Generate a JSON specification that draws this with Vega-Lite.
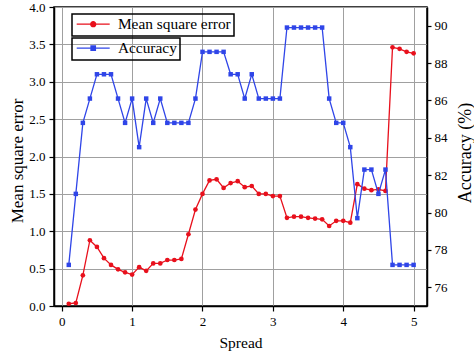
{
  "$schema": "https://vega.github.io/schema/vega-lite/v6.json",
  "autosize": "none",
  "width": 373,
  "height": 299,
  "padding": {"left": 54, "top": 7, "right": 47, "bottom": 45},
  "background": "white",
  "config": {
    "font": "Liberation Serif",
    "view": {"stroke": "black", "strokeWidth": 1.5},
    "axis": {
      "domainColor": "black", "domainWidth": 1.5,
      "tickColor": "black", "tickWidth": 1.2,
      "labelColor": "black", "labelFont": "Liberation Serif", "labelFontSize": 13,
      "titleColor": "black", "titleFont": "Liberation Serif", "titleFontWeight": "normal",
      "gridWidth": 1, "gridColor": "#a0a0a0"
    },
    "legend": {
      "labelFont": "Liberation Serif", "labelFontSize": 15.4, "labelColor": "black",
      "strokeColor": "black", "strokeWidth": 1.5
    }
  },
  "data": {"values": [
    {"x": 0.1, "mse": 0.03, "acc": 77.2},
    {"x": 0.2, "mse": 0.04, "acc": 81.0},
    {"x": 0.3, "mse": 0.41, "acc": 84.8},
    {"x": 0.4, "mse": 0.88, "acc": 86.1},
    {"x": 0.5, "mse": 0.79, "acc": 87.4},
    {"x": 0.6, "mse": 0.64, "acc": 87.4},
    {"x": 0.7, "mse": 0.55, "acc": 87.4},
    {"x": 0.8, "mse": 0.49, "acc": 86.1},
    {"x": 0.9, "mse": 0.45, "acc": 84.8},
    {"x": 1.0, "mse": 0.42, "acc": 86.1},
    {"x": 1.1, "mse": 0.52, "acc": 83.5},
    {"x": 1.2, "mse": 0.47, "acc": 86.1},
    {"x": 1.3, "mse": 0.57, "acc": 84.8},
    {"x": 1.4, "mse": 0.57, "acc": 86.1},
    {"x": 1.5, "mse": 0.615, "acc": 84.8},
    {"x": 1.6, "mse": 0.615, "acc": 84.8},
    {"x": 1.7, "mse": 0.63, "acc": 84.8},
    {"x": 1.8, "mse": 0.96, "acc": 84.8},
    {"x": 1.9, "mse": 1.29, "acc": 86.1},
    {"x": 2.0, "mse": 1.50, "acc": 88.6},
    {"x": 2.1, "mse": 1.68, "acc": 88.6},
    {"x": 2.2, "mse": 1.695, "acc": 88.6},
    {"x": 2.3, "mse": 1.58, "acc": 88.6},
    {"x": 2.4, "mse": 1.645, "acc": 87.4},
    {"x": 2.5, "mse": 1.67, "acc": 87.4},
    {"x": 2.6, "mse": 1.59, "acc": 86.1},
    {"x": 2.7, "mse": 1.605, "acc": 87.4},
    {"x": 2.8, "mse": 1.50, "acc": 86.1},
    {"x": 2.9, "mse": 1.50, "acc": 86.1},
    {"x": 3.0, "mse": 1.47, "acc": 86.1},
    {"x": 3.1, "mse": 1.47, "acc": 86.1},
    {"x": 3.2, "mse": 1.18, "acc": 89.9},
    {"x": 3.3, "mse": 1.195, "acc": 89.9},
    {"x": 3.4, "mse": 1.195, "acc": 89.9},
    {"x": 3.5, "mse": 1.18, "acc": 89.9},
    {"x": 3.6, "mse": 1.17, "acc": 89.9},
    {"x": 3.7, "mse": 1.16, "acc": 89.9},
    {"x": 3.8, "mse": 1.07, "acc": 86.1},
    {"x": 3.9, "mse": 1.14, "acc": 84.8},
    {"x": 4.0, "mse": 1.14, "acc": 84.8},
    {"x": 4.1, "mse": 1.115, "acc": 83.5},
    {"x": 4.2, "mse": 1.63, "acc": 79.7},
    {"x": 4.3, "mse": 1.57, "acc": 82.3},
    {"x": 4.4, "mse": 1.55, "acc": 82.3},
    {"x": 4.5, "mse": 1.56, "acc": 81.0},
    {"x": 4.6, "mse": 1.54, "acc": 82.3},
    {"x": 4.7, "mse": 3.46, "acc": 77.2},
    {"x": 4.8, "mse": 3.44, "acc": 77.2},
    {"x": 4.9, "mse": 3.40, "acc": 77.2},
    {"x": 5.0, "mse": 3.38, "acc": 77.2}
  ]},
  "layer": [
    {
      "mark": {"type": "line", "strokeWidth": 1.3, "point": {"shape": "circle", "filled": true, "size": 22, "opacity": 1}},
      "encoding": {
        "x": {
          "field": "x", "type": "quantitative",
          "scale": {"domain": [-0.11, 5.19], "nice": false, "zero": false},
          "axis": {
            "title": "Spread", "titleFontSize": 15.5,
            "values": [0, 1, 2, 3, 4, 5],
            "format": "d",
            "tickSize": 5,
            "grid": true,
            "labelPadding": 4,
            "titleX": 186.5, "titleY": 36, "titleBaseline": "middle", "titleAlign": "center"
          }
        },
        "y": {
          "field": "mse", "type": "quantitative",
          "scale": {"domain": [0, 4], "nice": false},
          "axis": {
            "title": "Mean square error", "titleFontSize": 17,
            "orient": "left",
            "values": [0, 0.5, 1, 1.5, 2, 2.5, 3, 3.5, 4],
            "format": ".1f",
            "labelOverlap": false,
            "tickSize": 5,
            "grid": true,
            "labelPadding": 4,
            "titleX": -37, "titleY": 153.5, "titleBaseline": "middle", "titleAlign": "center", "titleAngle": -90
          }
        },
        "color": {
          "datum": "Mean square error",
          "scale": {"range": ["#e8101c"]},
          "legend": {
            "title": null, "orient": "none", "legendX": 18, "legendY": 7,
            "padding": 2.5,
            "symbolType": "M-1,0L5,0M1.55,0A0.45,0.45 0 1,0 2.45,0A0.45,0.45 0 1,0 1.55,0Z",
            "symbolSize": 121, "symbolStrokeWidth": 1.3,
            "symbolStrokeColor": "#e8101c", "symbolFillColor": "#e8101c", "labelOffset": 28
          }
        }
      }
    },
    {
      "mark": {"type": "line", "strokeWidth": 1.3, "point": {"shape": "square", "filled": true, "size": 20, "opacity": 1}},
      "encoding": {
        "x": {"field": "x", "type": "quantitative"},
        "y": {
          "field": "acc", "type": "quantitative",
          "scale": {"domain": [75, 91], "nice": false, "zero": false},
          "axis": {
            "title": "Accuracy (%)", "titleFontSize": 18,
            "orient": "right",
            "values": [76, 78, 80, 82, 84, 86, 88, 90],
            "grid": false,
            "tickSize": 4,
            "labelPadding": 3,
            "titleX": 38, "titleY": 145.5, "titleBaseline": "middle", "titleAlign": "center", "titleAngle": -90
          }
        },
        "color": {
          "datum": "Accuracy",
          "scale": {"range": ["#2f45e8"]},
          "legend": {
            "title": null, "orient": "none", "legendX": 18, "legendY": 31,
            "padding": 2.5,
            "symbolType": "M-1,0L5,0M1.6,-0.4L2.4,-0.4L2.4,0.4L1.6,0.4Z",
            "symbolSize": 121, "symbolStrokeWidth": 1.3,
            "symbolStrokeColor": "#2f45e8", "symbolFillColor": "#2f45e8", "labelOffset": 28
          }
        }
      }
    }
  ],
  "resolve": {"scale": {"y": "independent", "color": "independent"}}
}
